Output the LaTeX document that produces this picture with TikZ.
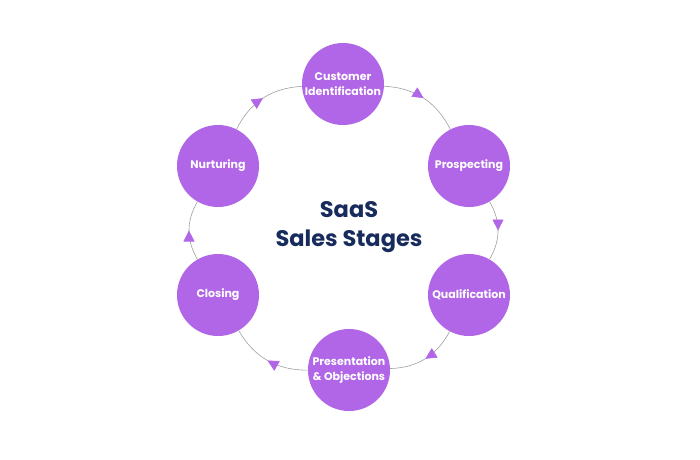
\documentclass[tikz,border=0pt]{standalone}
\usepackage{fontspec}
\setmainfont{Poppins}
\usetikzlibrary{arrows.meta,decorations.markings}
\definecolor{stagepurple}{HTML}{B066E6}
\definecolor{titlenavy}{HTML}{172B5C}

\begin{document}
\begin{tikzpicture}[x=1pt,y=-1pt,
    stage/.style={circle,fill=stagepurple,minimum size=82pt,inner sep=0pt,text=white,align=center,font=\bfseries\fontsize{11}{14.5}\selectfont},
    link/.style={draw=gray!75,line width=0.6pt,postaction={decorate},
        decoration={markings,mark=at position 0.5 with {\arrow[stagepurple]{Triangle[length=11pt,width=11pt]}}}}]
    \useasboundingbox (0,0) rectangle (700,459);
    \node[stage] (cust) at (343,84) {Customer\\Identification};
    \node[stage] (prosp) at (469,166) {Prospecting};
    \node[stage] (qual) at (469,295) {Qualification};
    \node[stage] (pres) at (349,370) {Presentation\\\& Objections};
    \node[stage] (clos) at (218,295) {Closing};
    \node[stage] (nurt) at (218,166) {Nurturing};
    \node[text=titlenavy,align=center,font=\bfseries\fontsize{22.5}{29}\selectfont] (title) at (349,227) {SaaS\\Sales Stages};
    % cycle
    \draw[link] (cust) to[bend left=30] (prosp);
    \draw[link] (prosp) to[bend left=30] (qual);
    \draw[link] (qual) to[bend left=30] (pres);
    \draw[link] (pres) to[bend left=30] (clos);
    \draw[link] (clos) to[bend left=30] (nurt);
    \draw[link] (nurt) to[bend left=30] (cust);
\end{tikzpicture}
\end{document}
